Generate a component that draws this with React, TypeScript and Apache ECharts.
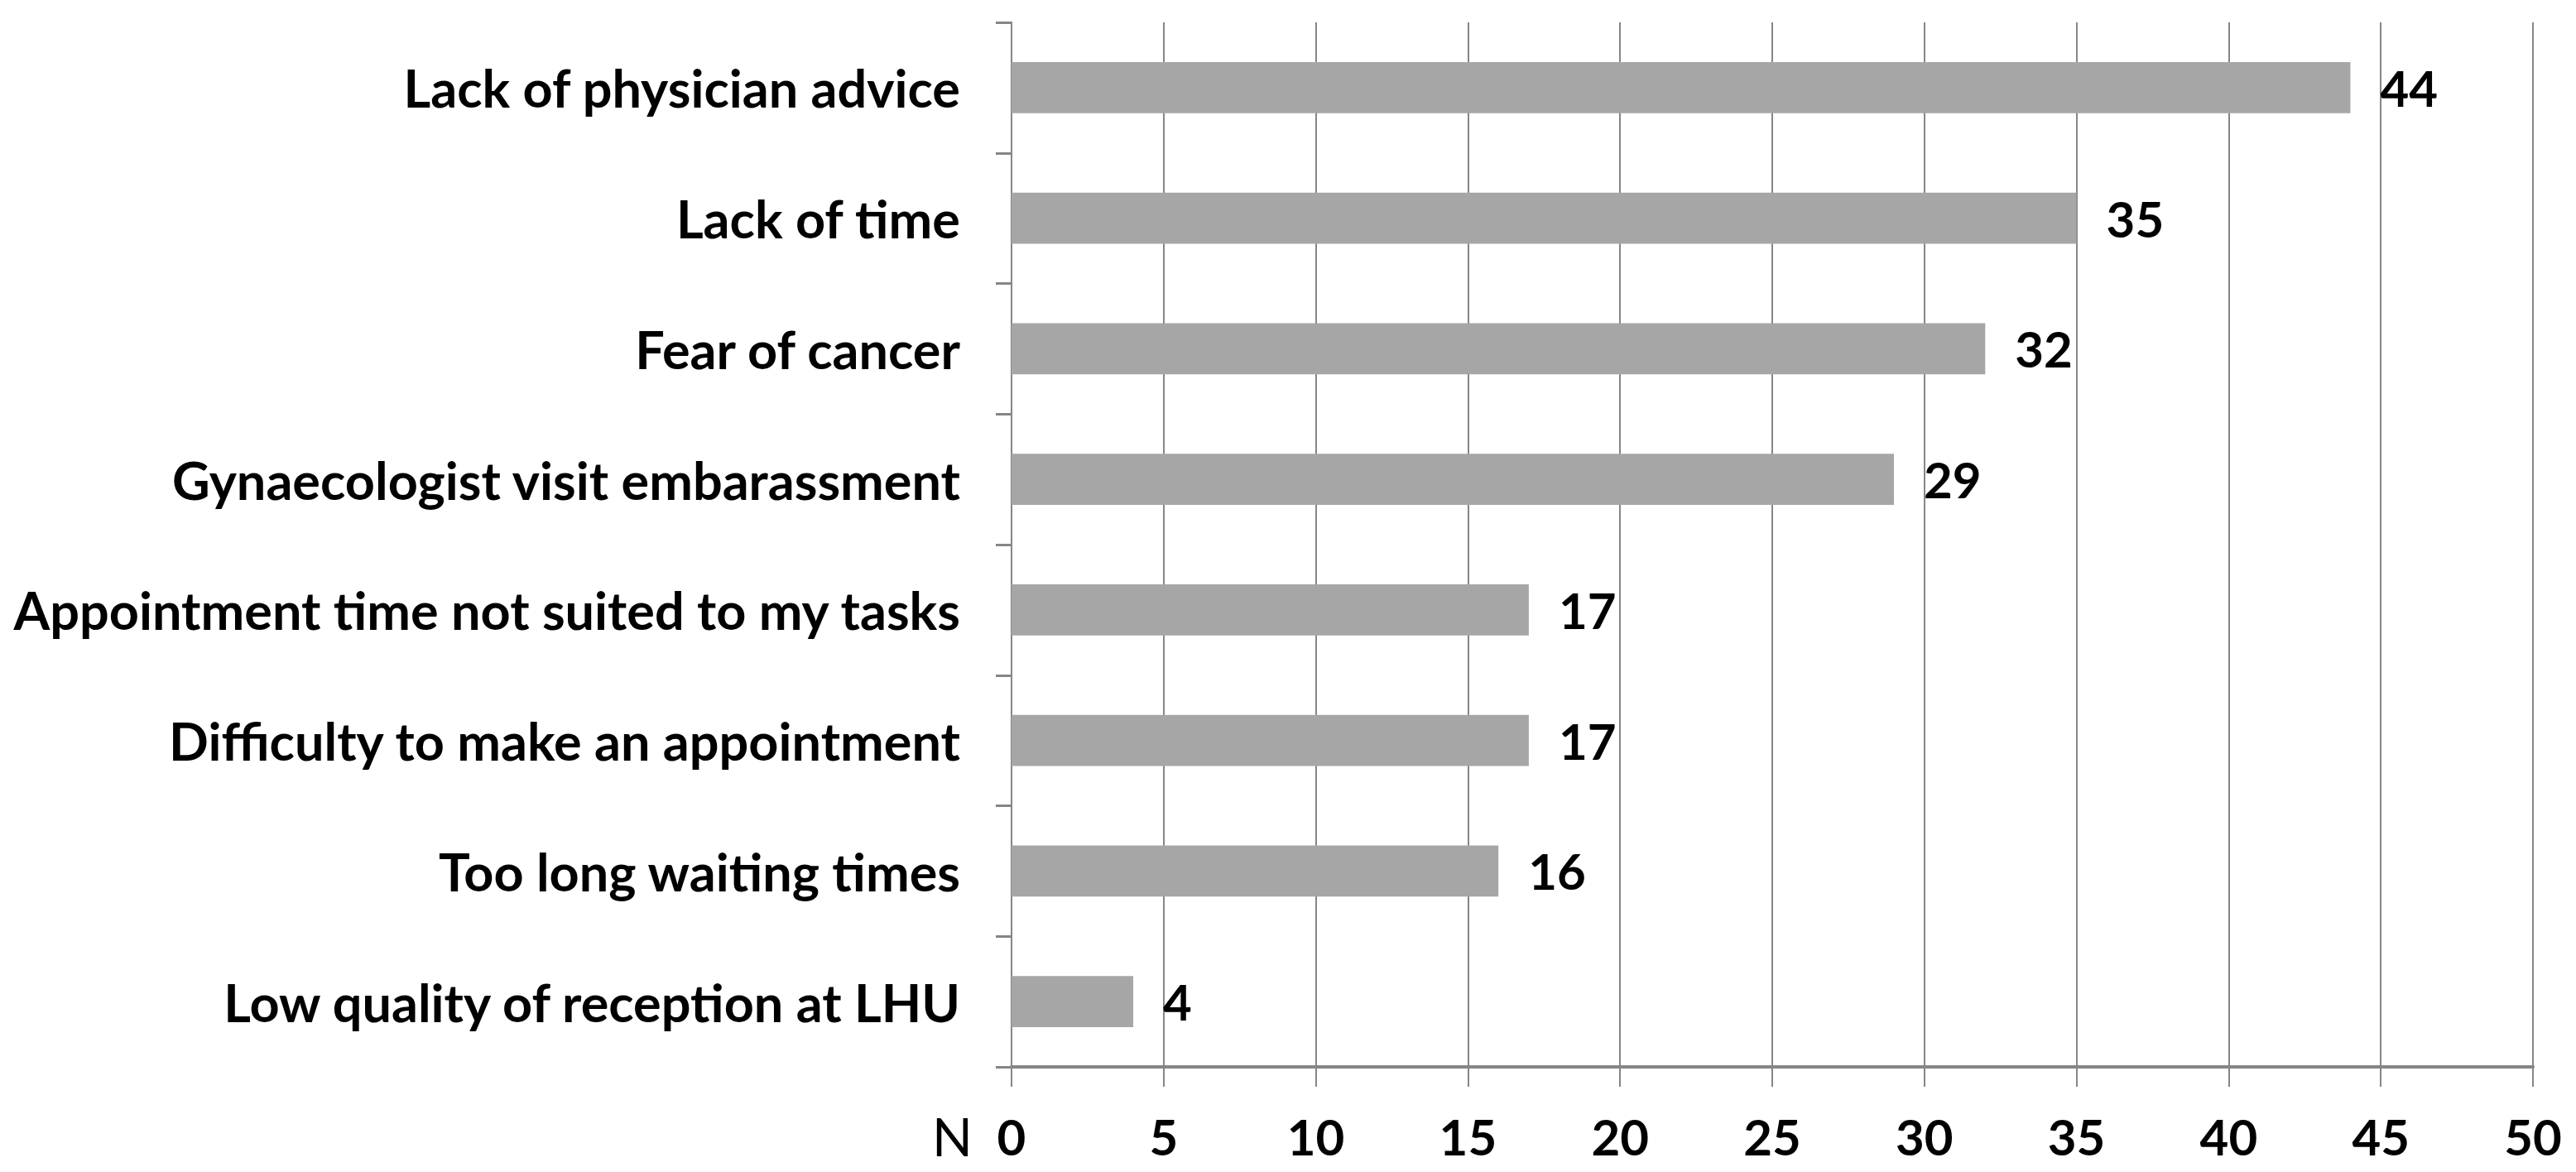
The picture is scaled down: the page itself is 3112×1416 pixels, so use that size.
import React, { useEffect, useRef } from "react";
import * as echarts from "echarts";

const categories = [
  "Lack of physician advice",
  "Lack of time",
  "Fear of cancer",
  "Gynaecologist visit embarassment",
  "Appointment time not suited to my tasks",
  "Difficulty to make an appointment",
  "Too long waiting times",
  "Low quality of reception at LHU",
];
const values = [44, 35, 32, 29, 17, 17, 16, 4];
const xTicks = [0, 5, 10, 15, 20, 25, 30, 35, 40, 45, 50];

const FONT = "Lato";
const GRAY = "#868686";

export default function App() {
  const ref = useRef<HTMLDivElement>(null);
  useEffect(() => {
    document.body.style.margin = "0";
    const chart = echarts.init(ref.current!, null, { renderer: "svg" });
    chart.setOption({
      animation: false,
      backgroundColor: "#ffffff",
      grid: { left: 1222, right: 52, top: 27, bottom: 127, containLabel: false },
      xAxis: {
        type: "value",
        min: xTicks[0],
        max: xTicks[xTicks.length - 1],
        interval: 5,
        axisLine: { show: true, lineStyle: { color: GRAY, width: 4 } },
        axisTick: { show: true, length: 24, lineStyle: { color: GRAY, width: 2 } },
        splitLine: { show: true, lineStyle: { color: GRAY, width: 2 } },
        axisLabel: {
          margin: 54,
          fontFamily: FONT,
          fontWeight: "bold",
          fontSize: 60,
          color: "#000",
        },
      },
      yAxis: {
        type: "category",
        data: categories,
        inverse: true,
        axisLine: { show: true, lineStyle: { color: GRAY, width: 2 } },
        axisTick: { show: true, length: 19, lineStyle: { color: GRAY, width: 3 } },
        axisLabel: {
          margin: 62,
          fontFamily: FONT,
          fontWeight: "bold",
          fontSize: 63,
          color: "#000",
        },
      },
      graphic: [
        {
          type: "text",
          left: 1126,
          top: 1340,
          style: {
            text: "N",
            fontFamily: FONT,
            fontSize: 64,
            fill: "#000",
          },
        },
      ],
      series: [
        {
          type: "bar",
          data: values,
          barWidth: "39%",
          itemStyle: { color: "#a6a6a6" },
          label: {
            show: true,
            position: "right",
            distance: 36,
            fontFamily: FONT,
            fontWeight: "bold",
            fontSize: 60,
            color: "#000",
          },
        },
      ],
    });
    return () => chart.dispose();
  }, []);
  return <div ref={ref} style={{ width: 3112, height: 1416 }} />;
}
